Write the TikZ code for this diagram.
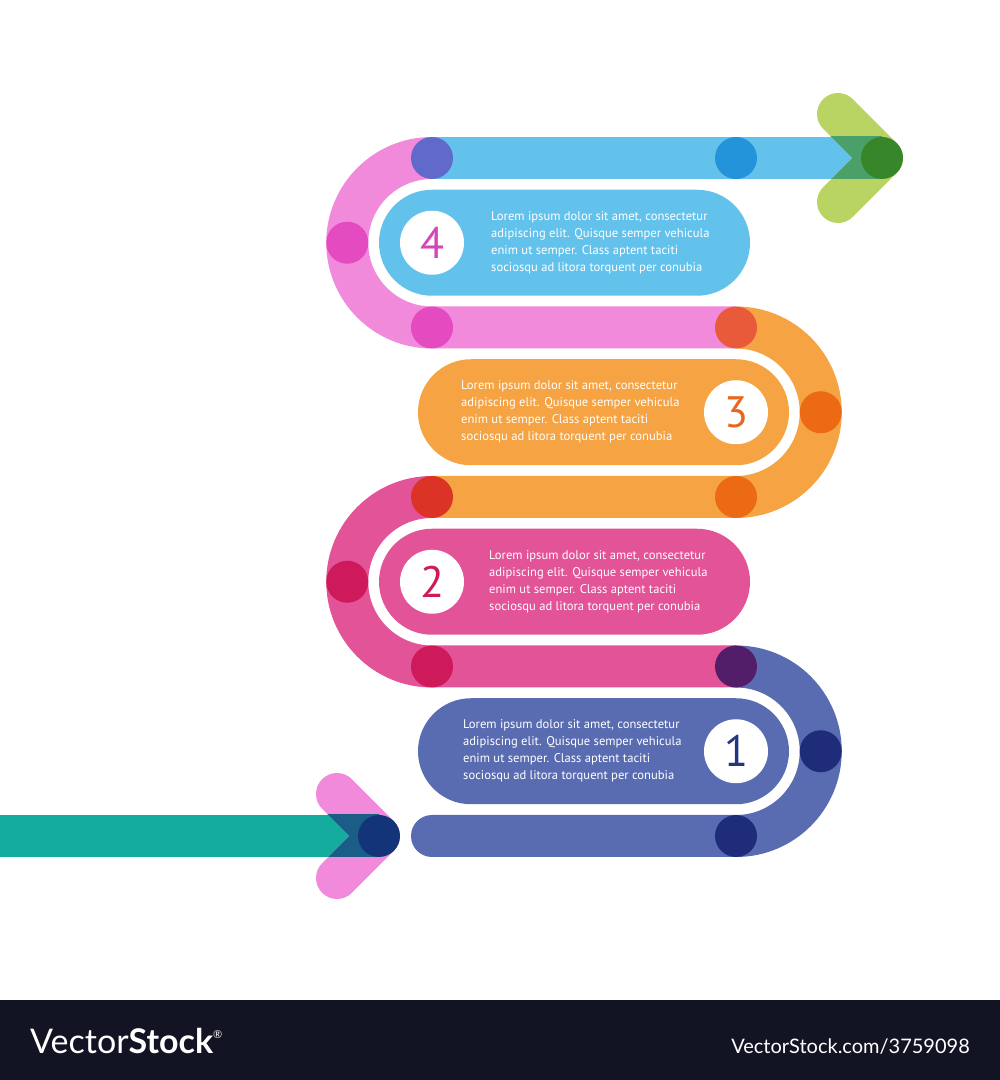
\documentclass[tikz,border=0pt]{standalone}
\usepackage{fontspec}
\setmainfont{PT Sans}
\newfontfamily\brandfont{Lato}
\usetikzlibrary{positioning}
\definecolor{trackA}{HTML}{5A6CB1}
\definecolor{trackB}{HTML}{E25397}
\definecolor{trackC}{HTML}{F5A343}
\definecolor{trackD}{HTML}{F18ADB}
\definecolor{trackE}{HTML}{63C2EC}
\definecolor{jointA}{HTML}{1F2C7A}
\definecolor{jointAB}{HTML}{521E69}
\definecolor{jointB}{HTML}{CE1A5A}
\definecolor{jointBC}{HTML}{DC3327}
\definecolor{jointC}{HTML}{EC6A14}
\definecolor{jointCD}{HTML}{E85A3A}
\definecolor{jointD}{HTML}{E54BC0}
\definecolor{jointDE}{HTML}{616ACB}
\definecolor{jointE}{HTML}{2494DA}
\definecolor{chevGreen}{HTML}{BAD463}
\definecolor{chevGreenE}{HTML}{4BA06A}
\definecolor{tipGreen}{HTML}{37862A}
\definecolor{leadTeal}{HTML}{15ACA0}
\definecolor{chevPinkT}{HTML}{1A5E88}
\definecolor{tipNavy}{HTML}{14347A}
\definecolor{numA}{HTML}{243580}
\definecolor{numB}{HTML}{CE1A5A}
\definecolor{numC}{HTML}{E8661E}
\definecolor{numD}{HTML}{D646B8}
\definecolor{footbg}{HTML}{121423}
\tikzset{%
   band/.style={
      line width=42pt
   },
   chevron/.style={
      line width=42pt,
      line cap=round,
      line join=round
   },
   joint/.style={
      circle,
      inner sep=0pt,
      outer sep=0pt,
      minimum size=42pt,
      fill=#1
   },
   pill/.style={
      fill=#1,
      rounded corners=53pt
   },
   numdisc/.style={
      circle,
      inner sep=0pt,
      minimum size=64pt,
      fill=white,
      text=#1,
      font=\fontsize{44}{44}\selectfont
   },
   blurb/.style={
      anchor=west,
      align=left,
      inner sep=0pt,
      text=white,
      font=\fontsize{12.6}{17}\selectfont
   },
}
\newcommand\blurbtext{Lorem ipsum dolor sit amet, consectetur\\
  adipiscing elit. Quisque semper vehicula\\
  enim ut semper. Class aptent taciti\\
  sociosqu ad litora torquent per conubia}

\begin{document}
\begin{tikzpicture}[x=1pt, y=1pt]
   \useasboundingbox (0,0) rectangle (1000,1080);
   \fill[white] (0,0) rectangle (1000,1080);

   \draw[band, trackA, line cap=round] (432,244) -- (736,244)
      arc[start angle=-90, end angle=90, radius=84.75];
   \draw[band, trackB] (736,413.5) -- (432,413.5)
      arc[start angle=-90, end angle=-270, radius=84.75];
   \draw[band, trackC] (432,583) -- (736,583)
      arc[start angle=-90, end angle=90, radius=84.75];
   \draw[band, trackD] (736,752.5) -- (432,752.5)
      arc[start angle=-90, end angle=-270, radius=84.75];
   \draw[band, trackE] (432,922) -- (882,922);

   \draw[band, leadTeal] (0,244) -- (379,244);

   \draw[chevron, chevGreen] (838,966) -- (882,922) -- (838,878);
   \begin{scope}
      \clip (432,901) rectangle (882,943);
      \draw[chevron, chevGreenE] (838,966) -- (882,922) -- (838,878);
   \end{scope}
   \draw[chevron, trackD] (337,286) -- (379,244) -- (337,202);
   \begin{scope}
      \clip (0,223) rectangle (379,265);
      \draw[chevron, chevPinkT] (337,286) -- (379,244) -- (337,202);
   \end{scope}

   \node[joint=tipNavy] (lead) at (379,244) {};
   \node[joint=jointA] (j1) at (736,244) {};
   \node[joint=jointA] (j2) at (820.75,328.75) {};
   \node[joint=jointAB] (j3) at (736,413.5) {};
   \node[joint=jointB] (j4) at (432,413.5) {};
   \node[joint=jointB] (j5) at (347.25,498.25) {};
   \node[joint=jointBC] (j6) at (432,583) {};
   \node[joint=jointC] (j7) at (736,583) {};
   \node[joint=jointC] (j8) at (820.75,667.75) {};
   \node[joint=jointCD] (j9) at (736,752.5) {};
   \node[joint=jointD] (j10) at (432,752.5) {};
   \node[joint=jointD] (j11) at (347.25,837.25) {};
   \node[joint=jointDE] (j12) at (432,922) {};
   \node[joint=jointE] (j13) at (736,922) {};
   \node[joint=tipGreen] (goal) at (882,922) {};

   \fill[pill=trackA] (418,275.75) rectangle (789,381.75);
   \fill[pill=trackB] (379,445.25) rectangle (750,551.25);
   \fill[pill=trackC] (418,614.75) rectangle (789,720.75);
   \fill[pill=trackE] (379,784.25) rectangle (750,890.25);

   \node[numdisc=numA] (n1) at (736,328.75) {1};
   \node[numdisc=numB] (n2) at (432,498.25) {2};
   \node[numdisc=numC] (n3) at (736,667.75) {3};
   \node[numdisc=numD] (n4) at (432,837.25) {4};

   \node[blurb] (t1) at (463,328.75) {\blurbtext};
   \node[blurb] (t2) at (489,498.25) {\blurbtext};
   \node[blurb] (t3) at (461,667.75) {\blurbtext};
   \node[blurb] (t4) at (491,837.25) {\blurbtext};

   \fill[footbg] (0,0) rectangle (1000,80);
   \node[anchor=base west, inner sep=0pt, text=white,
      font=\brandfont\fontsize{34}{34}\selectfont] (brand) at (30,27)
      {Vector\textbf{Stock}\raisebox{15pt}{\fontsize{11}{11}\selectfont ®}};
   \node[anchor=base east, inner sep=0pt, text=white,
      font=\brandfont\fontsize{20}{20}\selectfont] (url) at (970,27)
      {VectorStock.com/3759098};
\end{tikzpicture}
\end{document}
